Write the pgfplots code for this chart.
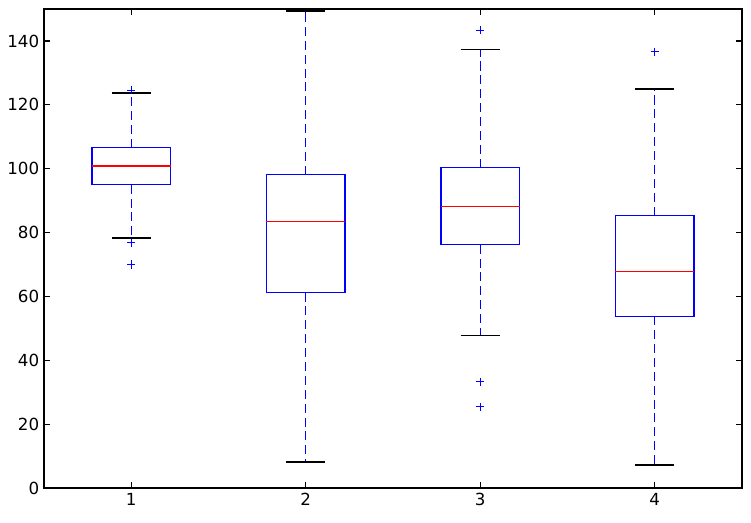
\documentclass[border=0pt]{standalone}
\usepackage{fontspec}
\setmainfont{DejaVu Sans}
\usepackage{pgfplots}
\pgfplotsset{compat=1.18}

\begin{document}
\begin{tikzpicture}
\begin{axis}[
  scale only axis,
  width=502.6pt, height=344.9pt,
  xmin=0.5, xmax=4.5, ymin=0, ymax=150,
  xtick={1,2,3,4},
  ytick={0,20,...,140},
  tick align=inside,
  tick pos=both,
  major tick length=4.3pt,
  tick style={black, line width=0.8pt},
  axis line style={black, line width=1pt},
  ticklabel style={font=\fontsize{12}{14}\selectfont},
  /pgf/number format/assume math mode=true,
  unbounded coords=jump,
]
% whiskers (quartile to whisker end)
\addplot[blue, line width=1pt, dash pattern=on 6.5pt off 3.5pt] coordinates {
  (1,106.6) (1,123.7) (1,nan) (1,95.0) (1,78.3) (1,nan)
  (2,98.1) (2,149.4) (2,nan) (2,61.2) (2,8.1) (2,nan)
  (3,100.3) (3,137.4) (3,nan) (3,76.2) (3,47.8) (3,nan)
  (4,85.3) (4,125.0) (4,nan) (4,53.8) (4,7.2)
};
% caps
\addplot[black, line width=1pt] coordinates {
  (0.8875,123.7) (1.1125,123.7) (1,nan) (0.8875,78.3) (1.1125,78.3) (1,nan)
  (1.8875,149.4) (2.1125,149.4) (2,nan) (1.8875,8.1) (2.1125,8.1) (2,nan)
  (2.8875,137.4) (3.1125,137.4) (3,nan) (2.8875,47.8) (3.1125,47.8) (3,nan)
  (3.8875,125.0) (4.1125,125.0) (4,nan) (3.8875,7.2) (4.1125,7.2)
};
% boxes (lower to upper quartile)
\addplot[blue, line width=1pt] coordinates {
  (0.775,95.0) (1.225,95.0) (1.225,106.6) (0.775,106.6) (0.775,95.0) (1,nan)
  (1.775,61.2) (2.225,61.2) (2.225,98.1) (1.775,98.1) (1.775,61.2) (2,nan)
  (2.775,76.2) (3.225,76.2) (3.225,100.3) (2.775,100.3) (2.775,76.2) (3,nan)
  (3.775,53.8) (4.225,53.8) (4.225,85.3) (3.775,85.3) (3.775,53.8)
};
% medians
\addplot[red, line width=1pt] coordinates {
  (0.775,100.9) (1.225,100.9) (1,nan)
  (1.775,83.4) (2.225,83.4) (2,nan)
  (2.775,88.1) (3.225,88.1) (3,nan)
  (3.775,67.8) (4.225,67.8)
};
% outliers
\addplot[only marks, mark=+, mark size=2.9pt, mark options={blue, line width=0.6pt}] coordinates {
  (1,124.5) (1,76.8) (1,70.0)
  (3,143.3) (3,33.3) (3,25.4)
  (4,136.6)
};
\end{axis}
\pgfresetboundingbox
\path (current axis.south west) +(-31.7pt,-24.5pt)
  rectangle ([shift={(6.5pt,6.5pt)}]current axis.north east);
\end{tikzpicture}
\end{document}
